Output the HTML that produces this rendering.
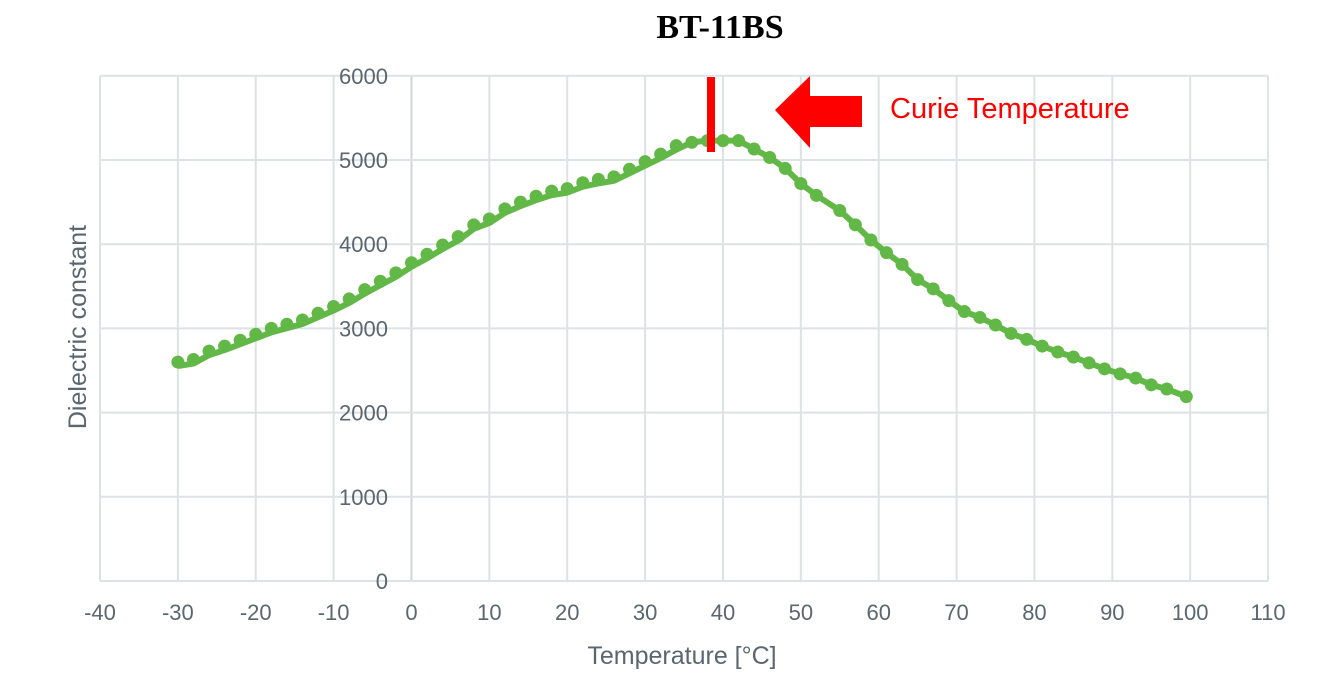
<!DOCTYPE html>
<html><head><meta charset="utf-8"><style>body{margin:0;background:#fff}svg{display:block}</style></head>
<body>
<svg width="1328" height="691" xmlns="http://www.w3.org/2000/svg" font-family="Liberation Sans, sans-serif">
<rect width="1328" height="691" fill="#fff"/>
<g id="grid" stroke="#dde2e5" stroke-width="2"></g>
<text x="720" y="38" text-anchor="middle" font-family="Liberation Serif, serif" font-weight="bold" font-size="34">BT-11BS</text>
<g id="ylab" fill="#5a6770" font-size="22" text-anchor="end"></g>
<g id="xlab" fill="#5a6770" font-size="22" text-anchor="middle"></g>
<text x="682" y="664" text-anchor="middle" fill="#5a6770" font-size="25">Temperature [°C]</text>
<text transform="translate(86,327) rotate(-90)" text-anchor="middle" fill="#5a6770" font-size="25">Dielectric constant</text>
<g id="series"></g>
<rect x="707" y="77" width="8" height="75" fill="#ff0000"/>
<polygon points="775,110 810,76 810,96 862,96 862,127 810,127 810,148" fill="#ff0000"/>
<text x="890" y="118" fill="#ff0000" font-size="29">Curie Temperature</text>
</svg>
<script>
const ns="http://www.w3.org/2000/svg";
const X=t=>100+(t+40)*7.787, Y=v=>581-v*0.0842;
const g=document.getElementById('grid');
function el(p,n,a){const e=document.createElementNS(ns,n);for(const k in a)e.setAttribute(k,a[k]);p.appendChild(e);return e;}
for(let t=-40;t<=110;t+=10){el(g,'line',{x1:X(t),x2:X(t),y1:76,y2:581,stroke:t==0?'#cfd5d9':'#dde2e5'});
 el(document.getElementById('xlab'),'text',{x:X(t),y:620}).textContent=t;}
for(let v=0;v<=6000;v+=1000){el(g,'line',{x1:100,x2:1268,y1:Y(v),y2:Y(v)});
 el(document.getElementById('ylab'),'text',{x:388,y:Y(v)+8}).textContent=v;}
const d=[[-30,2600],[-28,2630],[-26,2730],[-24,2790],[-22,2860],[-20,2930],[-18,3000],[-16,3050],[-14,3100],[-12,3180],[-10,3260],[-8,3350],[-6,3460],[-4,3560],[-2,3660],[0,3780],[2,3880],[4,3990],[6,4090],[8,4230],[10,4300],[12,4420],[14,4500],[16,4570],[18,4630],[20,4660],[22,4730],[24,4770],[26,4800],[28,4890],[30,4980],[32,5070],[34,5170],[36,5210],[38,5230],[40,5230],[42,5230],[44,5130],[46,5030],[48,4900],[50,4720],[52,4580],[55,4400],[57,4230],[59,4050],[61,3900],[63,3760],[65,3580],[67,3470],[69,3330],[71,3200],[73,3130],[75,3040],[77,2940],[79,2870],[81,2790],[83,2720],[85,2660],[87,2590],[89,2520],[91,2460],[93,2410],[95,2330],[97,2280],[99.5,2190]];
const s=document.getElementById('series');
el(s,'polyline',{points:d.map(p=>X(p[0])+','+(Y(p[1])+(p[0]<36?4:0))).join(' '),fill:'none',stroke:'#62b846','stroke-width':6,'stroke-linejoin':'round'});
d.forEach(p=>el(s,'circle',{cx:X(p[0]),cy:Y(p[1]),r:6.5,fill:'#62b846'}));
</script>
</body></html>
